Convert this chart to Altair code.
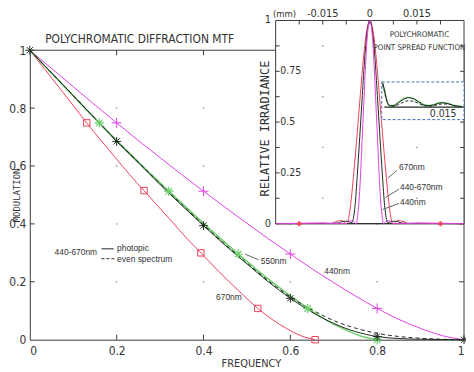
import altair as alt
import pandas as pd

FONT_N = "Liberation Sans Narrow, DejaVu Sans Condensed, Arial Narrow, sans-serif"
FONT_S = "Liberation Sans, Arial, sans-serif"
FONT_M = "DejaVu Sans Mono, Liberation Mono, monospace"
RED = "#f0405a"; MAG = "#e23fe6"; GRN = "#6fcf6f"; BLK = "#1e2a1e"
BLUE = "#3f6fb5"; AX = "#3a3a3a"; DOT = "#b4b4b4"; TXT = "#333333"

# ---------------- main MTF data ----------------
freq_440 = [0, 0.05, 0.1, 0.15, 0.2, 0.25, 0.3, 0.35, 0.4, 0.45, 0.5, 0.55, 0.6, 0.65, 0.7, 0.75, 0.8, 0.85, 0.9, 0.95, 1.0]
mtf_440 = [1.0, 0.937, 0.874, 0.811, 0.749, 0.688, 0.629, 0.570, 0.513, 0.457, 0.402, 0.348, 0.296, 0.245, 0.197, 0.151, 0.108, 0.070, 0.039, 0.014, 0.0]
freq_670 = [0, 0.033, 0.066, 0.099, 0.131, 0.164, 0.197, 0.230, 0.263, 0.296, 0.329, 0.361, 0.394, 0.427, 0.460, 0.493, 0.525, 0.558, 0.591, 0.624, 0.657]
mtf_670 = [1.0, 0.937, 0.874, 0.811, 0.749, 0.688, 0.629, 0.570, 0.515, 0.460, 0.405, 0.351, 0.300, 0.248, 0.199, 0.152, 0.108, 0.070, 0.039, 0.014, 0.0]
freq_550 = [0, 0.04, 0.08, 0.12, 0.16, 0.2, 0.24, 0.28, 0.32, 0.36, 0.4, 0.44, 0.48, 0.52, 0.56, 0.6, 0.64, 0.68, 0.72, 0.76, 0.8]
mtf_550 = [1.0, 0.937, 0.874, 0.811, 0.749, 0.688, 0.629, 0.570, 0.513, 0.457, 0.402, 0.348, 0.296, 0.245, 0.197, 0.151, 0.108, 0.070, 0.039, 0.014, 0.0]
freq_poly = [0, 0.05, 0.1, 0.15, 0.2, 0.25, 0.3, 0.35, 0.4, 0.45, 0.5, 0.55, 0.6, 0.65, 0.7, 0.75, 0.8, 0.85, 0.9, 0.95, 1.0]
mtf_photopic = [1.0, 0.922, 0.843, 0.764, 0.685, 0.611, 0.536, 0.464, 0.394, 0.326, 0.262, 0.199, 0.143, 0.095, 0.056, 0.028, 0.011, 0.004, 0.0015, 0.0005, 0.0]
mtf_even = [1.0, 0.922, 0.844, 0.765, 0.687, 0.613, 0.539, 0.467, 0.397, 0.329, 0.265, 0.203, 0.148, 0.103, 0.066, 0.040, 0.022, 0.011, 0.005, 0.0015, 0.0]

mk440_x = [0.2, 0.4, 0.6, 0.8]
mk440_y = [0.749, 0.513, 0.296, 0.108]
mk670_x = [0.131, 0.263, 0.394, 0.525, 0.657]
mk670_y = [0.749, 0.515, 0.300, 0.108, 0.0]
mk550_x = [0.16, 0.32, 0.48, 0.64, 0.8]
mk550_y = [0.749, 0.513, 0.296, 0.108, 0.0]
mkpoly_x = [0, 0.2, 0.4, 0.6, 0.8, 1.0]
mkpoly_y = [1.0, 0.685, 0.394, 0.143, 0.011, 0.0]

x_ticks = [0, 0.2, 0.4, 0.6, 0.8, 1]
y_ticks = [0, 0.2, 0.4, 0.6, 0.8, 1]
inner = [0.2, 0.4, 0.6, 0.8]

# ---------------- inset PSF data (mm) ----------------
psf_x_670 = [-0.030, -0.0225, -0.015, -0.0125, -0.0105, -0.009, -0.0075, -0.007, -0.0065, -0.006, -0.005, -0.004, -0.003, -0.002, -0.001, 0.0,
             0.001, 0.002, 0.003, 0.004, 0.005, 0.006, 0.0065, 0.007, 0.0075, 0.009, 0.0105, 0.0125, 0.015, 0.0225, 0.030]
psf_670 = [0.0, 0.002, 0.003, 0.0, 0.012, 0.015, 0.0, 0.01, 0.05, 0.11, 0.27, 0.45, 0.64, 0.82, 0.95, 1.0,
           0.95, 0.82, 0.64, 0.45, 0.27, 0.11, 0.05, 0.01, 0.0, 0.015, 0.012, 0.0, 0.003, 0.002, 0.0]
psf_x_mix = [-0.030, -0.02, -0.012, -0.01, -0.0085, -0.007, -0.0057, -0.0052, -0.0047, -0.004, -0.0032, -0.0024, -0.0016, -0.0008, 0.0,
             0.0008, 0.0016, 0.0024, 0.0032, 0.004, 0.0047, 0.0052, 0.0057, 0.007, 0.0085, 0.01, 0.012, 0.02, 0.030]
psf_mix = [0.0, 0.001, 0.002, 0.004, 0.012, 0.012, 0.005, 0.03, 0.09, 0.24, 0.43, 0.63, 0.82, 0.95, 1.0,
           0.95, 0.82, 0.63, 0.43, 0.24, 0.09, 0.03, 0.005, 0.012, 0.012, 0.004, 0.002, 0.001, 0.0]
psf_x_440 = [-0.030, -0.015, -0.0075, -0.0063, -0.0053, -0.0043, -0.0039, -0.0035, -0.003, -0.0025, -0.0019, -0.0013, -0.0007, 0.0,
             0.0007, 0.0013, 0.0019, 0.0025, 0.003, 0.0035, 0.0039, 0.0043, 0.0053, 0.0063, 0.0075, 0.015, 0.030]
psf_440 = [0.0, 0.002, 0.0, 0.014, 0.012, 0.0, 0.04, 0.10, 0.23, 0.40, 0.60, 0.80, 0.94, 1.0,
           0.94, 0.80, 0.60, 0.40, 0.23, 0.10, 0.04, 0.0, 0.012, 0.014, 0.0, 0.002, 0.0]

in_x_ticks = [-0.0225, -0.015, -0.0075, 0, 0.0075, 0.015, 0.0225]
in_x_labels = [-0.015, 0, 0.015]
in_x_label_text = ["-0.015", "0", "0.015"]
in_y_ticks = [0.125, 0.25, 0.375, 0.5, 0.625, 0.75, 0.875]
in_y_out_vals = [1, 0]
in_y_out_text = ["1", "0"]
in_y_in_vals = [0.75, 0.5, 0.25]
in_y_in_text = ["0.75", "0.5", "0.25"]
in_dot_x = [-0.015, 0.015]
in_dot_y = [0.125, 0.375, 0.625, 0.875]

# ---------------- sub-inset (PSF tails) ----------------
sub_x = [0.0043, 0.0049, 0.0056, 0.0065, 0.0078, 0.0093, 0.0109, 0.0125, 0.0140, 0.0156, 0.0175, 0.0190, 0.0206, 0.0228, 0.0250, 0.0269, 0.0294]
sub_solid = [0.0192, 0.0129, 0.0050, 0.0011, 0.0011, 0.0034, 0.0062, 0.0074, 0.0066, 0.0042, 0.0014, 0.0011, 0.0018, 0.0034, 0.0026, 0.0011, 0.0003]
sub_dashed = [0.0180, 0.0120, 0.0045, 0.0010, 0.0006, 0.0020, 0.0040, 0.0050, 0.0046, 0.0030, 0.0010, 0.0007, 0.0012, 0.0024, 0.0024, 0.0012, 0.0004]
sub_green = [0.0195, 0.0132, 0.0054, 0.0014, 0.0016, 0.0040, 0.0068, 0.0078, 0.0070, 0.0046, 0.0018, 0.0014, 0.0022, 0.0038, 0.0030, 0.0013, 0.0004]

PLUS = "M-1,0H1M0,-1V1"
STAR = "M-1,0H1M0,-1V1M-0.7,-0.7L0.7,0.7M-0.7,0.7L0.7,-0.7"

# ---------------- scales / axes ----------------
xs_main = alt.Scale(domain=[0, 1], nice=False, zero=False)
ys_main = alt.Scale(domain=[0, 1], nice=False, zero=False)
x_axis = alt.Axis(values=x_ticks, format="~g", labelFont=FONT_N, labelFontSize=12, labelColor=TXT,
                  domainColor=AX, ticks=False, tickSize=0, grid=False, labelPadding=6, labelOverlap=False,
                  title="FREQUENCY", titleFont=FONT_N, titleFontSize=11, titleFontWeight="normal",
                  titleColor=TXT, titleX=223, titleY=18, titleBaseline="top")
y_axis = alt.Axis(values=y_ticks, format="~g", labelFont=FONT_N, labelFontSize=12, labelColor=TXT,
                  domainColor=AX, ticks=False, tickSize=0, grid=False, labelPadding=4, labelOverlap=False,
                  title="MODULATION", titleFont=FONT_M, titleFontSize=9, titleFontWeight="normal",
                  titleColor=TXT, titleAngle=270, titleX=-13, titleY=146, titleAlign="center",
                  titleBaseline="middle")


def MX(f="x"):
    return alt.X(f"{f}:Q", scale=xs_main, axis=x_axis)


def MY(f="y"):
    return alt.Y(f"{f}:Q", scale=ys_main, axis=y_axis)


xs_in = alt.Scale(domain=[-0.03, 0.03], range=[248, 438], nice=False, zero=False)
ys_in = alt.Scale(domain=[0, 1], range=[175, -30], nice=False, zero=False)


def IX(f="x"):
    return alt.X(f"{f}:Q", scale=xs_in, axis=None)


def IY(f="y"):
    return alt.Y(f"{f}:Q", scale=ys_in, axis=None)


xs_sub = alt.Scale(domain=[0.004, 0.03], range=[355, 438], nice=False, zero=False)
ys_sub = alt.Scale(domain=[-0.01, 0.02], range=[70, 32], nice=False, zero=False)


def SX(f="x"):
    return alt.X(f"{f}:Q", scale=xs_sub, axis=None)


def SY(f="y"):
    return alt.Y(f"{f}:Q", scale=ys_sub, axis=None)


def df(**kw):
    return pd.DataFrame(kw)


def texts(enc_x, enc_y, xs, ys, ts, **mk):
    return alt.Chart(df(x=xs, y=ys, t=ts)).mark_text(**mk).encode(x=enc_x(), y=enc_y(), text="t:N")


# ---------------- main layer ----------------
grid = alt.Chart(df(x=[a for a in inner for b in inner], y=[b for a in inner for b in inner])).mark_circle(
    size=4, color=DOT, opacity=1).encode(x=MX(), y=MY())
frame_top = alt.Chart(df(x=[0], x2=[1], y=[1])).mark_rule(color=AX, strokeWidth=1).encode(
    x=MX(), x2="x2:Q", y=MY())
frame_right = alt.Chart(df(x=[1], y=[0], y2=[1])).mark_rule(color=AX, strokeWidth=1).encode(
    x=MX(), y=MY(), y2="y2:Q")
tick_b = alt.Chart(df(x=inner)).mark_rule(color=AX).encode(x=MX(), y=alt.value(292), y2=alt.value(287))
tick_t = alt.Chart(df(x=[0.2, 0.4])).mark_rule(color=AX).encode(x=MX(), y=alt.value(0), y2=alt.value(5))
tick_l = alt.Chart(df(y=inner)).mark_rule(color=AX).encode(y=MY(), x=alt.value(0), x2=alt.value(5))
tick_r = alt.Chart(df(y=[0.2, 0.4])).mark_rule(color=AX).encode(y=MY(), x=alt.value(438), x2=alt.value(433))


def curve(xs, ys, color, width=1.0, dash=None):
    kw = dict(color=color, strokeWidth=width, interpolate="monotone")
    if dash:
        kw["strokeDash"] = dash
    return alt.Chart(df(x=xs, y=ys)).mark_line(**kw).encode(x=MX(), y=MY())


def markers(xs, ys, shape, color, size, width=1.0):
    return alt.Chart(df(x=xs, y=ys)).mark_point(shape=shape, color=color, size=size, filled=False,
                                                strokeWidth=width, opacity=1).encode(x=MX(), y=MY())


c440 = curve(freq_440, mtf_440, MAG)
c670 = curve(freq_670, mtf_670, RED)
c550 = curve(freq_550, mtf_550, GRN, 1.6)
cph = curve(freq_poly, mtf_photopic, BLK)
cev = curve(freq_poly, mtf_even, BLK, 1.0, [4, 3])

m440 = markers(mk440_x, mk440_y, PLUS, MAG, 100)
m670 = markers(mk670_x, mk670_y, "square", RED, 42)
m550 = markers(mk550_x, mk550_y, STAR, GRN, 90, 1.2)
mpoly = markers(mkpoly_x, mkpoly_y, STAR, BLK, 80)

title_main = texts(MX, MY, [0.253], [1.04], ["POLYCHROMATIC DIFFRACTION MTF"], align="center",
                   baseline="middle", font=FONT_N, fontSize=12, color=TXT)
leg_txt = texts(MX, MY, [0.057, 0.201, 0.201], [0.303, 0.318, 0.280], ["440-670nm", "photopic", "even spectrum"],
                align="left", baseline="middle", font=FONT_S, fontSize=8.5, color=TXT)
leg_solid = alt.Chart(df(x=[0.165], x2=[0.193], y=[0.314])).mark_rule(color="#555", strokeWidth=1.3).encode(
    x=MX(), x2="x2:Q", y=MY())
leg_dash = alt.Chart(df(x=[0.165], x2=[0.197], y=[0.280])).mark_rule(color="#555", strokeWidth=1.2,
                                                                      strokeDash=[3, 2]).encode(
    x=MX(), x2="x2:Q", y=MY())
lab_main = texts(MX, MY, [0.532, 0.678, 0.429], [0.273, 0.236, 0.146], ["550nm", "440nm", "670nm"],
                 align="left", baseline="middle", font=FONT_S, fontSize=8.5, color=TXT)
lead550 = alt.Chart(df(x=[0.495], x2=[0.527], y=[0.296], y2=[0.276])).mark_rule(color="#666").encode(
    x=MX(), x2="x2:Q", y=MY(), y2="y2:Q")

main = alt.layer(grid, frame_top, frame_right, tick_b, tick_t, tick_l, tick_r,
                 c440, c670, c550, cev, cph, m670, m440, m550, mpoly,
                 title_main, leg_txt, leg_solid, leg_dash, lab_main, lead550)

# ---------------- inset layer ----------------
in_box = alt.Chart(df(x=[-0.03], x2=[0.03], y=[0], y2=[1])).mark_rect(fill="white", stroke=AX,
                                                                        strokeWidth=1).encode(
    x=IX(), x2="x2:Q", y=IY(), y2="y2:Q")
in_dots = alt.Chart(df(x=[a for a in in_dot_x for b in in_dot_y], y=[b for a in in_dot_x for b in in_dot_y])).mark_circle(
    size=4, color=DOT, opacity=1).encode(x=IX(), y=IY())
in_tick_t = alt.Chart(df(x=in_x_ticks)).mark_rule(color=AX).encode(x=IX(), y=alt.value(-30), y2=alt.value(-26))
in_tick_l = alt.Chart(df(y=in_y_ticks)).mark_rule(color=AX).encode(y=IY(), x=alt.value(248), x2=alt.value(252))
in_tick_r = alt.Chart(df(y=in_y_ticks)).mark_rule(color=AX).encode(y=IY(), x=alt.value(438), x2=alt.value(434))


def icurve(xs, ys, color, width=1.0):
    return alt.Chart(df(x=xs, y=ys)).mark_line(color=color, strokeWidth=width, interpolate="monotone").encode(
        x=IX(), y=IY())


p670 = icurve(psf_x_670, psf_670, RED)
pmix = icurve(psf_x_mix, psf_mix, BLK)
p440 = icurve(psf_x_440, psf_440, MAG)
in_base = alt.Chart(df(x=[-0.03], x2=[0.03], y=[0])).mark_rule(color=BLK, strokeWidth=1).encode(
    x=IX(), x2="x2:Q", y=IY())
in_red_mk = alt.Chart(df(x=[-0.0225, 0.0225], y=[0, 0])).mark_point(shape=PLUS, color=RED, size=25,
                                                                   filled=False, opacity=1).encode(x=IX(), y=IY())

in_top_lab = alt.Chart(df(x=in_x_labels, t=in_x_label_text)).mark_text(
    align="center", baseline="middle", font=FONT_N, fontSize=11, color=TXT).encode(
    x=IX(), y=alt.value(-37), text="t:N")
in_mm = alt.Chart(df(x=[-0.0272], t=["(mm)"])).mark_text(
    align="center", baseline="middle", font=FONT_N, fontSize=9.5, color=TXT).encode(
    x=IX(), y=alt.value(-37), text="t:N")
in_ylab_out = texts(IX, IY, [-0.0315, -0.0315], in_y_out_vals, in_y_out_text, align="right",
                    baseline="middle", font=FONT_N, fontSize=11, color=TXT)
in_ylab_in = texts(IX, IY, [-0.0285, -0.0285, -0.0285], in_y_in_vals, in_y_in_text, align="left",
                   baseline="middle", font=FONT_N, fontSize=10.5, color=TXT)
in_ytitle = texts(IX, IY, [-0.0333], [0.468], ["RELATIVE IRRADIANCE"], align="center", baseline="middle",
                  font=FONT_M, fontSize=12, color=TXT, angle=270)
in_title = texts(IX, IY, [0.0158, 0.0158], [0.927, 0.864], ["POLYCHROMATIC", "POINT SPREAD FUNCTION"],
                 align="center", baseline="middle", font=FONT_N, fontSize=8, color=TXT)
in_labs = texts(IX, IY, [0.0093, 0.0096, 0.0096], [0.278, 0.180, 0.107], ["670nm", "440-670nm", "440nm"],
                align="left", baseline="middle", font=FONT_S, fontSize=8.5, color=TXT)
in_leads = alt.Chart(df(x=[0.0086, 0.0093, 0.0093], x2=[0.0058, 0.0050, 0.0041],
                        y=[0.262, 0.170, 0.100], y2=[0.225, 0.130, 0.070])).mark_rule(color="#666").encode(
    x=IX(), x2="x2:Q", y=IY(), y2="y2:Q")

inset = alt.layer(in_box, in_dots, in_tick_t, in_tick_l, in_tick_r, in_base, p670, pmix, p440, in_red_mk,
                  in_top_lab, in_mm, in_ylab_out, in_ylab_in, in_ytitle, in_title, in_labs, in_leads)

# ---------------- sub-inset layer ----------------
sub_box = alt.Chart(df(x=[0.004], x2=[0.03], y=[-0.01], y2=[0.02])).mark_rect(
    fill="white", stroke=BLUE, strokeWidth=1, strokeDash=[3, 2]).encode(x=SX(), x2="x2:Q", y=SY(), y2="y2:Q")
sub_base = alt.Chart(df(x=[0.0048], x2=[0.03], y=[0])).mark_rule(color=BLK, strokeWidth=1.2).encode(
    x=SX(), x2="x2:Q", y=SY())
s_green = alt.Chart(df(x=sub_x, y=sub_green)).mark_line(color=GRN, strokeWidth=1.2, interpolate="monotone").encode(
    x=SX(), y=SY())
s_solid = alt.Chart(df(x=sub_x, y=sub_solid)).mark_line(color=BLK, strokeWidth=1, interpolate="monotone").encode(
    x=SX(), y=SY())
s_dash = alt.Chart(df(x=sub_x, y=sub_dashed)).mark_line(color=BLK, strokeWidth=1, strokeDash=[3, 2],
                                                       interpolate="monotone").encode(x=SX(), y=SY())
sub_lab = texts(SX, SY, [0.0234], [-0.0053], ["0.015"], align="center", baseline="middle", font=FONT_N,
                fontSize=10.5, color=TXT)

sub = alt.layer(sub_box, sub_base, s_green, s_dash, s_solid, sub_lab)

chart = alt.layer(main, inset, sub).resolve_scale(x="independent", y="independent").properties(
    width=438, height=292,
    autosize=alt.AutoSizeParams(type="none"),
    padding={"left": 22, "top": 41, "right": 2, "bottom": 31},
    background="white",
).configure_view(stroke=None)

chart.save("out.html", embed_options={"renderer": "svg", "actions": False})
